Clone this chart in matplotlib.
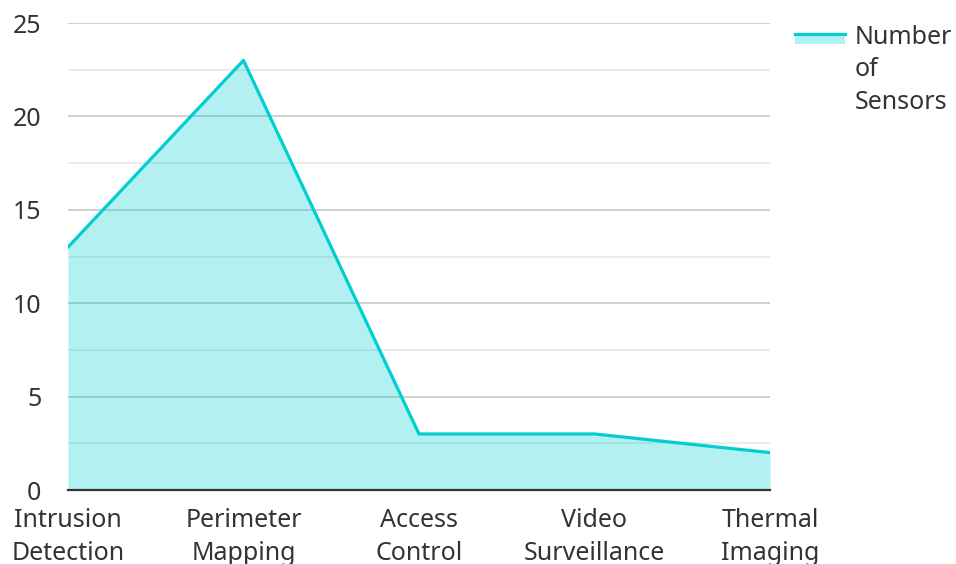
import matplotlib.pyplot as plt
from matplotlib.patches import Patch, Rectangle
from matplotlib.lines import Line2D
from matplotlib.legend_handler import HandlerBase
from matplotlib.ticker import MultipleLocator

plt.rcParams['font.family'] = ['Noto Sans', 'DejaVu Sans']

categories = ['Intrusion\nDetection', 'Perimeter\nMapping', 'Access\nControl',
              'Video\nSurveillance', 'Thermal\nImaging']
sensors = [13, 23, 3, 3, 2]
series_name = 'Number\nof\nSensors'

line_color = '#00CED1'
text_color = '#333333'


class TopHandler(HandlerBase):
    # legend swatch lined up with the first text line instead of the middle
    def __init__(self, shift, **kw):
        super().__init__(**kw)
        self.shift = shift

    def create_artists(self, legend, orig_handle, xdescent, ydescent,
                       width, height, fontsize, trans):
        yc = height / 2 - ydescent + self.shift
        patch = Rectangle((-xdescent, yc - 7.5), width, 7.5, facecolor=line_color,
                          alpha=0.3, edgecolor='none', transform=trans)
        line = Line2D([-xdescent, -xdescent + width], [yc, yc], color=line_color,
                      linewidth=2.3, transform=trans)
        return [patch, line]


fig = plt.figure(figsize=(9.56, 5.64), dpi=100)
ax = fig.add_axes([0.0711, 0.1312, 0.7343, 0.828])

x = list(range(len(categories)))
ax.fill_between(x, sensors, 0, color=line_color, alpha=0.3, linewidth=0, zorder=1)
ax.plot(x, sensors, color=line_color, linewidth=2.3, zorder=3)

ax.set_xlim(0, len(categories) - 1)
ax.set_ylim(0, 25)
ax.yaxis.set_major_locator(MultipleLocator(5))
ax.yaxis.set_minor_locator(MultipleLocator(2.5))
ax.set_xticks(x)
ax.set_xticklabels(categories)

# grid
ax.grid(axis='y', which='major', color='#c8c8c8', linewidth=1.2, zorder=0)
ax.grid(axis='y', which='minor', color='#e8e8e8', linewidth=1.2, zorder=0)
ax.set_axisbelow(True)

for side in ['top', 'right', 'left']:
    ax.spines[side].set_visible(False)
ax.spines['bottom'].set_color(text_color)
ax.spines['bottom'].set_linewidth(1.6)
ax.spines['bottom'].set_zorder(4)

ax.tick_params(axis='both', which='both', length=0, labelsize=18, labelcolor=text_color)
ax.tick_params(axis='y', pad=19)
ax.tick_params(axis='x', pad=13)
for lbl in ax.get_xticklabels():
    lbl.set_linespacing(1.4)

handle = Patch(facecolor=line_color)
leg = fig.legend([handle], [series_name], loc='upper left',
                 bbox_to_anchor=(0.8316, 0.956), frameon=False, fontsize=18,
                 borderpad=0, borderaxespad=0,
                 handlelength=2.0, handletextpad=0.4, labelcolor=text_color,
                 handler_map={handle: TopHandler(26.5)})
for t in leg.get_texts():
    t.set_linespacing(1.4)

fig.savefig('out.png', dpi=100)
